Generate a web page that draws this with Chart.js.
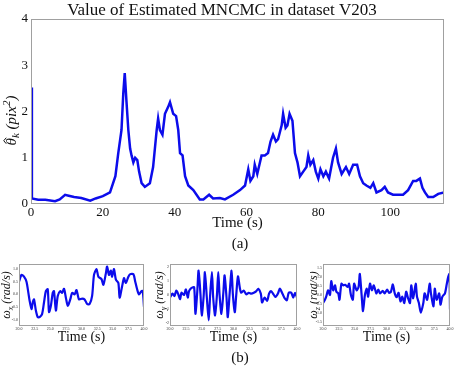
<!DOCTYPE html>
<html>
<head>
<meta charset="utf-8">
<script src="https://cdn.jsdelivr.net/npm/chart.js@4.4.0/dist/chart.umd.min.js"></script>
<style>
  body { margin: 0; background: #fff; width: 474px; height: 367px; position: relative; overflow: hidden; font-family: "Liberation Serif", serif; }
  canvas { position: absolute; }
  .cap { position: absolute; font-size: 15px; color: #111; transform: translate(-50%, -50%); }
</style>
</head>
<body>
<canvas id="main" width="474" height="236" style="left:0;top:0"></canvas>
<div class="cap" style="left:240px;top:243px">(a)</div>
<canvas id="wx" width="158" height="100" style="left:0;top:250px"></canvas>
<canvas id="wy" width="155" height="100" style="left:155px;top:250px"></canvas>
<canvas id="wz" width="164" height="100" style="left:310px;top:250px"></canvas>
<div class="cap" style="left:240px;top:357px">(b)</div>

<script>
// Valeurs
const mainTime = [0,0.25,2,4,6.7,8,9.5,10.5,12,14,
  16.5,18,20,22,23.5,24.3,25.2,25.7,26.1,26.6,
  27.1,27.6,28,28.5,29,29.6,30.1,30.8,31.7,33.1,
  34,35,35.4,35.9,36.6,37.3,38.2,38.7,39.6,40.4,
  41,41.5,42.2,42.9,43.8,45.2,47,48,49.6,50.7,
  52.6,54,56.3,58.2,59.6,60.5,61.1,61.9,62.3,63,
  64.2,65.1,66,66.7,67.4,68.2,68.8,69.8,70.2,70.9,
  71.4,72,72.8,73.5,74.2,74.9,75.8,76.7,77.2,77.8,
  78.6,79.3,80,80.6,81.4,82.1,83,84.1,84.9,85.5,
  86.5,87.7,88.6,89.7,90.8,91.6,92.5,93.4,94.5,95.3,
  96.2,97.6,98.5,99.4,100.8,103.6,105,106.4,107.3,108.3,
  109,109.7,110.6,112,113.4,115];
const mainValue = [2.52,0.12,0.09,0.09,0.06,0.1,0.2,0.18,0.15,0.13,
  0.07,0.12,0.17,0.25,0.6,1.1,1.6,2.4,2.83,2.2,
  1.6,1.2,1.05,0.9,1.0,0.95,0.7,0.45,0.37,0.45,
  0.8,1.6,1.85,1.6,1.5,1.95,2.1,2.2,1.95,1.9,
  1.6,1.1,1.05,0.6,0.4,0.3,0.1,0.1,0.2,0.12,
  0.13,0.1,0.2,0.3,0.4,0.75,0.5,0.6,0.85,0.65,
  1.05,1.05,1.1,1.35,1.5,1.35,1.4,1.7,1.95,1.65,
  1.7,1.95,1.8,1.1,0.9,0.6,0.7,0.8,1.05,0.85,
  0.95,0.7,0.55,0.75,0.6,0.7,0.55,1.0,1.2,0.9,
  0.65,0.8,0.65,0.85,0.85,0.6,0.45,0.4,0.35,0.45,
  0.25,0.3,0.37,0.25,0.2,0.2,0.3,0.5,0.5,0.55,
  0.35,0.25,0.15,0.15,0.22,0.25];
const mainXTicks = [0, 20, 40, 60, 80, 100];
const mainYTicks = [0, 1, 2, 3, 4];

const wxTime = [20,20.4,20.8,21.2,21.5,21.7,22,22.2,22.4,22.7,
  23,23.3,23.7,24,24.3,24.6,24.8,25.1,25.4,25.6,
  25.9,26.2,26.6,26.9,27.2,27.5,27.8,28.2,28.5,28.9,
  29.2,29.6,30.1,30.5,30.9,31.3,31.7,32,32.4,32.7,
  33.2,33.5,33.9,34.1,34.4,34.7,34.9,35.2,35.5,35.9,
  36.1,36.5,36.8,37.1,37.5,37.8,38.3,38.6,38.9,39.2,
  39.6,39.8,40];
const wxValue = [0.5,0.77,0.7,0.5,0.06,-0.25,-0.58,-0.32,-0.2,-0.64,
  -0.9,-0.9,-0.77,-0.32,0.13,0.2,-0.7,-0.45,0.06,0.13,
  -0.64,-0.06,0.13,0.06,0.22,-0.13,-0.45,-0.2,0.06,0,
  0.17,-0.2,-0.17,-0.2,-0.38,-0.38,-0.06,0.77,1.0,0.7,
  0.6,0.38,0.83,1.1,0.77,0.94,0.7,1.0,0.58,0.45,
  -0.13,0.32,0.64,0.45,0.7,0.8,0.8,0.5,0.2,0,
  0.13,0.13,-0.5];

const wyTime = [20,20.4,20.7,21,21.3,21.6,21.8,22.2,22.5,22.8,
  23,23.4,23.8,24,24.3,24.5,24.8,25,25.3,25.5,
  25.8,26.1,26.3,26.6,26.8,27.1,27.4,27.6,27.8,28.1,
  28.4,28.6,28.9,29.1,29.4,29.7,29.9,30.2,30.4,30.7,
  31,31.2,31.6,32,32.4,32.8,33.2,33.6,33.9,34.3,
  34.5,34.9,35.3,35.6,35.9,36.3,36.6,37,37.3,37.7,
  38,38.4,38.7,39.1,39.4,39.7,40];
const wyValue = [-0.18,0.1,-0.07,0.32,0.05,-0.3,0.16,0,0.39,-0.18,
  0.28,0.5,0.55,-1.34,0.28,1.73,0.05,-1.45,-0.07,1.62,
  -0.18,-1.8,-0.18,1.62,-0.18,-1.45,0.05,1.62,0.05,-1.34,
  0.16,1.39,-0.18,-1.57,0.16,1.73,0.05,-1.22,-0.18,1.32,
  0.5,0.16,0.32,0.05,0.16,0.1,0.16,0.28,0.44,0.1,
  -0.53,-0.18,-0.41,0.1,0.28,0.05,-0.14,0.1,0.46,0.1,
  -0.18,-0.37,0.16,0.16,-0.18,0.16,-0.18];

const wzTime = [20,20.3,20.5,20.8,21.1,21.3,21.6,21.9,22.1,22.4,
  22.6,22.9,23.2,23.5,23.9,24.1,24.4,24.7,24.9,25.3,
  25.6,25.8,26.1,26.3,26.6,26.9,27.1,27.4,27.7,28,
  28.4,28.7,29,29.4,29.7,30.1,30.4,30.7,31,31.3,
  31.6,31.9,32.2,32.5,32.8,33.1,33.4,33.7,33.9,34.2,
  34.6,34.8,35.1,35.4,35.8,36,36.4,36.8,37,37.4,
  37.6,37.9,38.3,38.5,38.8,39.2,39.5,39.7,39.9,40];
const wzValue = [-0.44,-0.26,-0.09,0.26,0,0.76,0.26,0.53,0.18,0.09,
  -0.26,0.62,0.53,0.56,0.44,0.62,0,-0.26,0.62,0.26,
  0.44,1.15,-0.09,-0.88,0,0.35,-0.09,0.62,0.26,0.53,
  0.09,0.3,0.09,0.23,0.09,0.3,0.12,0.18,0.58,0.09,
  -0.12,0.12,-0.35,-0.09,-0.44,0.18,-0.18,-0.44,0.53,-0.18,
  0.62,-0.09,-0.44,-0.97,-0.44,0.09,-0.26,0.62,0.09,-0.62,
  0.35,-0.26,0.09,-0.53,-0.09,0.09,0.62,0.97,1.15,-0.79];

const smallXTicks = [20, 22.5, 25, 27.5, 30, 32.5, 35, 37.5, 40];
const wxYTicks = [-1, -0.5, 0, 0.5, 1];
const wyYTicks = [-2, -1, 0, 1, 2];
const wzYTicks = [-1.5, -1, -0.5, 0, 0.5, 1, 1.5];

const BLUE = 'rgb(12,12,235)';
const SERIF = '"Liberation Serif", "DejaVu Serif", serif';

// cadre gris + titre vertical avec indices/exposants (et chapeau)
const cadre = {
  id: 'cadre',
  afterDraw(chart, args, opts) {
    const { ctx, chartArea: a } = chart;
    ctx.save();
    ctx.strokeStyle = '#a0a0a0';
    ctx.lineWidth = 1;
    ctx.strokeRect(Math.round(a.left) + 0.5, Math.round(a.top) + 0.5, Math.round(a.width) - 1, Math.round(a.height) - 1);
    if (opts.parts) {
      const size = opts.size;
      const fontOf = p => `italic ${p.sub || p.sup ? Math.round(size * 0.7) : size}px ${SERIF}`;
      let total = 0;
      opts.parts.forEach(p => { ctx.font = fontOf(p); total += ctx.measureText(p.t).width; });
      ctx.translate(opts.x, (a.top + a.bottom) / 2 + (opts.dy || 0));
      ctx.rotate(-Math.PI / 2);
      ctx.fillStyle = '#111';
      ctx.textBaseline = 'middle';
      let x = -total / 2;
      opts.parts.forEach(p => {
        ctx.font = fontOf(p);
        const w = ctx.measureText(p.t).width;
        const dy = p.sub ? size * 0.3 : (p.sup ? -size * 0.35 : 0);
        ctx.fillText(p.t, x, dy);
        if (p.hat) {
          // petit chapeau tracé au-dessus de la lettre
          ctx.strokeStyle = '#111';
          ctx.lineWidth = 1;
          const cx = x + w / 2 + 1, top = -size * 0.55;
          ctx.beginPath();
          ctx.moveTo(cx - 3, top + 2.5);
          ctx.lineTo(cx, top);
          ctx.lineTo(cx + 3, top + 2.5);
          ctx.stroke();
        }
        x += w;
      });
    }
    ctx.restore();
  }
};

const fixTicks = arr => scale => { scale.ticks = arr.map(v => ({ value: v })); };

function serie(times, values) {
  return times.map((t, i) => ({ x: t, y: values[i] }));
}

new Chart(document.getElementById('main'), {
  type: 'line',
  data: {
    datasets: [{
      data: serie(mainTime, mainValue),
      borderColor: BLUE,
      borderWidth: 2.5,
      pointRadius: 0,
      tension: 0
    }]
  },
  options: {
    responsive: false,
    animation: false,
    layout: { padding: { left: 0, right: 30, top: 0, bottom: 0 } },
    plugins: {
      legend: { display: false },
      tooltip: { enabled: false },
      title: {
        display: true,
        text: 'Value of Estimated MNCMC in dataset V203',
        color: '#111',
        font: { family: SERIF, size: 17, weight: 'normal', lineHeight: 1 },
        padding: { top: 2, bottom: 0 }
      },
      cadre: {
        x: 12, dy: 9, size: 15,
        parts: [{ t: 'θ', hat: true }, { t: 'k', sub: true }, { t: ' (pix' }, { t: '2', sup: true }, { t: ')' }]
      }
    },
    scales: {
      x: {
        type: 'linear', min: 0, max: 115,
        grid: { display: false, drawTicks: false }, border: { display: false },
        afterBuildTicks: fixTicks(mainXTicks),
        afterFit: s => { s.height = 32; },
        ticks: { color: '#111', padding: 1, maxRotation: 0, font: { family: SERIF, size: 13 } },
        title: { display: true, text: 'Time (s)', color: '#111', font: { family: SERIF, size: 15 }, padding: { top: 0, bottom: 4 } }
      },
      y: {
        min: 0, max: 4,
        grid: { display: false, drawTicks: false }, border: { display: false },
        afterBuildTicks: fixTicks(mainYTicks),
        afterFit: s => { s.width = 31; },
        ticks: { color: '#111', padding: 3, font: { family: SERIF, size: 13 } }
      }
    }
  },
  plugins: [cadre]
});

function petitGraphe(id, times, values, yTicks, yMin, yMax, fmt, sub, geo) {
  new Chart(document.getElementById(id), {
    type: 'line',
    data: {
      datasets: [{
        data: serie(times, values),
        borderColor: BLUE,
        borderWidth: 2.2,
        pointRadius: 0,
        tension: 0.25
      }]
    },
    options: {
      responsive: false,
      animation: false,
      layout: { padding: { left: 0, right: geo.padRight, top: 14, bottom: 0 } },
      plugins: {
        legend: { display: false },
        tooltip: { enabled: false },
        cadre: {
          x: geo.labelX, size: 12,
          parts: [{ t: 'ω' }, { t: sub, sub: true }, { t: ' (rad/s)' }]
        }
      },
      scales: {
        x: {
          type: 'linear', min: 20, max: 40,
          grid: { display: false, drawTicks: false }, border: { display: false },
          afterBuildTicks: fixTicks(smallXTicks),
          afterFit: s => { s.height = 24; },
          ticks: { color: '#333', padding: 1, maxRotation: 0, autoSkip: false, font: { family: SERIF, size: 4 }, callback: v => v.toFixed(1) },
          title: { display: true, text: 'Time (s)', color: '#111', font: { family: SERIF, size: 14 }, padding: { top: 0, bottom: 4 } }
        },
        y: {
          min: yMin, max: yMax,
          grid: { display: false, drawTicks: false }, border: { display: false },
          afterBuildTicks: fixTicks(yTicks),
          afterFit: s => { s.width = geo.yWidth; },
          ticks: { color: '#333', padding: 1, font: { family: SERIF, size: 4 }, callback: fmt }
        }
      }
    },
    plugins: [cadre]
  });
}

petitGraphe('wx', wxTime, wxValue, wxYTicks, -1.25, 1.2, v => v.toFixed(1), 'x', { yWidth: 19, padRight: 14, labelX: 7 });
petitGraphe('wy', wyTime, wyValue, wyYTicks, -2.2, 2.2, v => String(v), 'y', { yWidth: 15, padRight: 13, labelX: 5 });
petitGraphe('wz', wzTime, wzValue, wzYTicks, -1.7, 1.7, v => v.toFixed(1), 'z', { yWidth: 13, padRight: 24, labelX: 4 });
</script>
</body>
</html>
